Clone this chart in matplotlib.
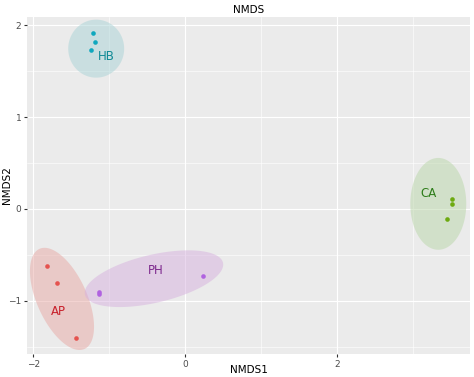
import numpy as np
import matplotlib.pyplot as plt

# NMDS scores per group
groups = ['AP', 'CA', 'HB', 'PH']
ap_x = [-1.82, -1.68, -1.43]
ap_y = [-0.62, -0.81, -1.41]
ca_x = [3.51, 3.51, 3.45]
ca_y = [0.11, 0.055, -0.11]
hb_x = [-1.21, -1.18, -1.24]
hb_y = [1.92, 1.82, 1.73]
ph_x = [-1.13, -1.13, 0.24]
ph_y = [-0.905, -0.927, -0.73]

# label positions
lab_x = [-1.67, 3.2, -1.04, -0.39]
lab_y = [-1.12, 0.17, 1.66, -0.67]

# ellipses: center, major half-axis vector, minor half-axis vector (data units)
ell_c = [(-1.62, -0.98), (3.33, 0.055), (-1.17, 1.745), (-0.41, -0.76)]
ell_a = [(0.296, -0.545), (0.0, 0.50), (0.368, 0.0), (0.908, 0.174)]
ell_b = [(0.30, 0.112), (0.368, 0.0), (0.0, 0.316), (0.071, -0.255)]

pt_col = ['#E5534F', '#6DAA10', '#10A8BE', '#B062E0']
txt_col = ['#C8202A', '#2E7D1A', '#108A96', '#7E2A8E']
fill_col = ['#E8A8A4', '#B9D6A8', '#A9D3D6', '#D6B0DE']

xs = [ap_x, ca_x, hb_x, ph_x]
ys = [ap_y, ca_y, hb_y, ph_y]

fig = plt.figure(figsize=(4.74, 3.77), dpi=100)
ax = fig.add_axes([0.057, 0.061, 0.935, 0.894])
ax.set_facecolor('#EBEBEB')

t = np.linspace(0, 2 * np.pi, 200)
for i, g in enumerate(groups):
    cx, cy = ell_c[i]
    a = ell_a[i]
    b = ell_b[i]
    ex = cx + a[0] * np.cos(t) + b[0] * np.sin(t)
    ey = cy + a[1] * np.cos(t) + b[1] * np.sin(t)
    ax.fill(ex, ey, color=fill_col[i], alpha=0.5, lw=0, zorder=2)
    ax.scatter(xs[i], ys[i], s=11, color=pt_col[i], zorder=3, lw=0)
    ax.text(lab_x[i], lab_y[i], g, color=txt_col[i], fontsize=8.5,
            ha='center', va='center', zorder=4)

ax.set_xlim(-2.08, 3.75)
ax.set_ylim(-1.58, 2.09)
ax.set_xticks([-2, 0, 2])
ax.set_yticks([-1, 0, 1, 2])
ax.set_xticks([-1, 1, 3], minor=True)
ax.set_yticks([-1.5, -0.5, 0.5, 1.5], minor=True)
ax.grid(True, which='major', color='white', lw=0.8)
ax.grid(True, which='minor', color='white', lw=0.4)
ax.set_axisbelow(True)
for s in ax.spines.values():
    s.set_visible(False)
ax.tick_params(which='major', length=2.5, color='#333333', labelsize=6.5,
               labelcolor='#4D4D4D', pad=1.5)
ax.tick_params(which='minor', length=0)

ax.set_xlabel('NMDS1', fontsize=7.5)
ax.set_ylabel('NMDS2', fontsize=7.5)
ax.xaxis.set_label_coords(0.5, -0.032)
ax.yaxis.set_label_coords(-0.034, 0.5)
ax.set_title('NMDS', fontsize=7.5, pad=3)

fig.savefig('out.png', dpi=100)
